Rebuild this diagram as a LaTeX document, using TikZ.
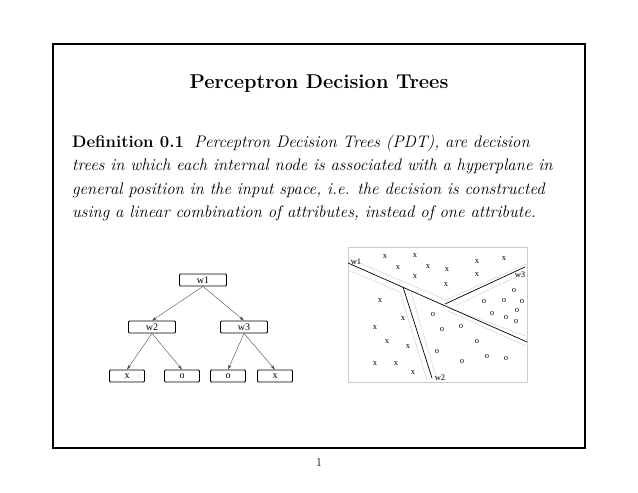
\documentclass[tikz,border=0pt]{standalone}
\usepackage{fontspec}
\newfontfamily\tms{Liberation Serif}
\usetikzlibrary{arrows.meta}
\begin{document}
\begin{tikzpicture}[x=1pt,y=-1pt,
  tbox/.style={draw,thick,rounded corners=1pt,minimum width=47pt,minimum height=12pt,inner sep=0pt,font=\tms\fontsize{10}{10}\selectfont},
  lbox/.style={tbox,minimum width=35pt},
  tarr/.style={draw=black!70,-{Stealth[length=5pt,width=3pt]}},
  deftext/.style={anchor=base west,inner sep=0pt,font=\fontsize{16.7}{16.7}\selectfont},
  pt/.style={inner sep=0pt,font=\tms\fontsize{8.5}{8.5}\selectfont},
  sep/.style={draw=black,line width=0.7pt},
  marg/.style={draw=black!15,line width=0.6pt}]
\useasboundingbox (0,0) rectangle (638,493);
\draw[line width=2.5pt] (53,44) rectangle (585,448);
\node[font=\bfseries\fontsize{20}{20}\selectfont] (title) at (319,84) {Perceptron Decision Trees};
\node[deftext] (l1) at (72,147) {\textbf{Definition 0.1}\ \ \itshape Perceptron Decision Trees (PDT), are decision};
\node[deftext] (l2) at (72,170.5) {\itshape trees in which each internal node is associated with a hyperplane in};
\node[deftext] (l3) at (72,194) {\itshape general position in the input space, i.e. the decision is constructed};
\node[deftext] (l4) at (72,217.5) {\itshape using a linear combination of attributes, instead of one attribute.};
% tree
\node[tbox] (w1) at (203,280) {w1};
\node[tbox] (w2) at (152,327) {w2};
\node[tbox] (w3) at (244,327) {w3};
\node[lbox] (a) at (127,376) {x};
\node[lbox] (b) at (182,376) {o};
\node[lbox] (c) at (228,376) {o};
\node[lbox] (d) at (275,376) {x};
\draw[tarr] (w1.south) -- (w2.north);
\draw[tarr] (w1.south) -- (w3.north);
\draw[tarr] (w2.south) -- (a.north);
\draw[tarr] (w2.south) -- (b.north);
\draw[tarr] (w3.south) -- (c.north);
\draw[tarr] (w3.south) -- (d.north);
% scatter panel
\draw[draw=black!20] (348,247) rectangle (527,382);
\draw[marg] (348,258) -- (446,300) -- (526,264);
\draw[marg] (348,270) -- (400,292) -- (427,380);
\draw[marg] (411,292) -- (437,380);
\draw[marg] (451,309) -- (526,336);
\draw[marg] (448,311) -- (526,346);
\draw[marg] (455,306) -- (526,272);
\draw[sep] (348,263) -- (527,342);
\draw[sep] (403,287) -- (432,378);
\draw[sep] (445,304) -- (525,267);
\node[pt] (lw1) at (356,262) {w1};
\node[pt] (lw3) at (520,275) {w3};
\node[pt] (lw2) at (440,378) {w2};
\foreach \p in {(385,257),(415,256),(398,268),(428,267),(447,270),(415,277),(446,285),(477,262),(504,259),(477,275),(380,301),(403,319),(375,328),(387,342),(408,347),(375,364),(396,364),(413,373)}
  \node[pt] at \p {x};
\foreach \p in {(514,291),(484,302),(504,301),(522,302),(492,314),(506,318),(517,311),(516,322),(433,315),(442,330),(461,327),(477,342),(437,352),(462,362),(487,357),(506,359)}
  \node[pt] at \p {o};
\node[font=\fontsize{12}{12}\selectfont] (pg) at (319,463) {1};
\end{tikzpicture}
\end{document}
